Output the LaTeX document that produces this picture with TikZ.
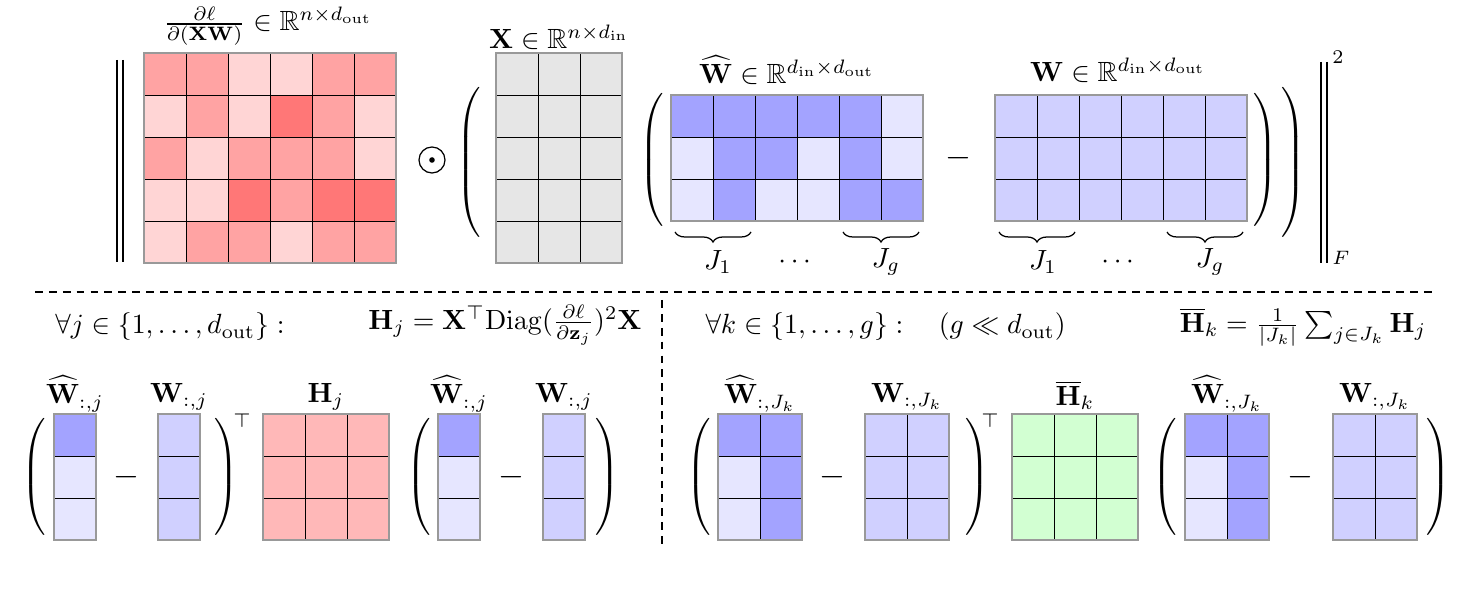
\documentclass[tikz,border=0pt]{standalone}
\usepackage{amsmath,amssymb}
\usetikzlibrary{decorations.pathreplacing}
\definecolor{RL}{RGB}{255,213,213}
\definecolor{RM}{RGB}{255,163,163}
\definecolor{RD}{RGB}{255,119,119}
\definecolor{BD}{RGB}{163,163,255}
\definecolor{BL}{RGB}{230,230,255}
\definecolor{BW}{RGB}{208,208,255}
\definecolor{GX}{RGB}{230,230,230}
\definecolor{HR}{RGB}{255,184,184}
\definecolor{HG}{RGB}{210,255,210}
\newcommand\dlm[2]{$\left#1\vcenter{\hbox{\vrule height #2 width 0pt}}\right.$}
\newcommand\dlmr[2]{$\left.\vcenter{\hbox{\vrule height #2 width 0pt}}\right#1$}
% \mymat{x}{y}{rows}
\newcommand\mymat[3]{%
  \foreach \row [count=\r] in {#3} {
    \foreach \cc [count=\k] in \row {
      \fill[\cc] ({#1+(\k-1)*42},{#2+(\r-1)*42}) rectangle ++(42,42);
    }
  }
  \foreach \row [count=\r] in {#3} {
    \foreach \cc [count=\k] in \row {
      \draw[cellline] ({#1+(\k-1)*42},{#2+(\r-1)*42}) rectangle ++(42,42);
      \xdef\nc{\k}
    }
    \xdef\nr{\r}
  }
  \draw[outline] (#1,#2) rectangle ({#1+\nc*42},{#2+\nr*42});
}
\begin{document}
\begin{tikzpicture}[x=0.36pt,y=-0.36pt,
  cellline/.style={draw=black,line width=0.35pt},
  outline/.style={draw=black!40,line width=0.5pt},
  lbl/.style={inner sep=0pt,anchor=center},
  brc/.style={decorate,decoration={brace,amplitude=3.6pt,mirror},line width=0.45pt},
  dsh/.style={line width=0.45pt,dash pattern=on 2.8pt off 2.2pt},
  bar/.style={line width=0.5pt}]
\useasboundingbox (0,0) rectangle (1481,592);
% ---------- top ----------
\draw[bar] (117,60) -- (117,262); \draw[bar] (123,60) -- (123,262);
\mymat{144}{53}{{RM,RM,RL,RL,RM,RM},{RL,RM,RL,RD,RM,RL},{RM,RL,RM,RM,RM,RL},{RL,RL,RD,RM,RD,RD},{RL,RM,RM,RL,RM,RM}}
\node[lbl] (lg) at (268,26) {$\frac{\partial\ell}{\partial(\mathbf{XW})}\in\mathbb{R}^{n\times d_{\mathrm{out}}}$};
\draw[line width=0.45pt] (432,160) circle (13);
\fill (432,160) circle (2.8);
\node[lbl] (p1) at (470,162) {\dlm{(}{59pt}};
\mymat{496}{53}{{GX,GX,GX},{GX,GX,GX},{GX,GX,GX},{GX,GX,GX},{GX,GX,GX}}
\node[lbl] (lx) at (559,37) {$\mathbf{X}\in\mathbb{R}^{n\times d_{\mathrm{in}}}$};
\node[lbl] (p2) at (653,160) {\dlm{(}{48pt}};
\mymat{671}{95}{{BD,BD,BD,BD,BD,BL},{BL,BD,BD,BL,BD,BL},{BL,BD,BL,BL,BD,BD}}
\node[lbl] (lwh) at (787,70) {$\widehat{\mathbf{W}}\in\mathbb{R}^{d_{\mathrm{in}}\times d_{\mathrm{out}}}$};
\node[lbl] (m1) at (958,158) {\large$-$};
\mymat{995}{95}{{BW,BW,BW,BW,BW,BW},{BW,BW,BW,BW,BW,BW},{BW,BW,BW,BW,BW,BW}}
\node[lbl] (lw) at (1118,70) {$\mathbf{W}\in\mathbb{R}^{d_{\mathrm{in}}\times d_{\mathrm{out}}}$};
\draw[brc] (675,232) -- (751,232);
\draw[brc] (843,232) -- (919,232);
\draw[brc] (999,232) -- (1075,232);
\draw[brc] (1167,232) -- (1243,232);
\node[lbl] (j1a) at (718,262) {$J_1$};
\node[lbl] (d1) at (797,262) {$\cdots$};
\node[lbl] (jga) at (886,262) {$J_g$};
\node[lbl] (j1b) at (1043,262) {$J_1$};
\node[lbl] (d2) at (1120,262) {$\cdots$};
\node[lbl] (jgb) at (1210,262) {$J_g$};
\node[lbl] (p3) at (1264,160) {\dlmr{)}{48pt}};
\node[lbl] (p4) at (1292,162) {\dlmr{)}{59pt}};
\draw[bar] (1321,62) -- (1321,263); \draw[bar] (1327,62) -- (1327,263);
\node[lbl] (sq) at (1338,57) {$\scriptstyle 2$};
\node[lbl] (fr) at (1341,258) {$\scriptstyle F$};
% ---------- separators ----------
\coordinate (h1) at (35,292); \coordinate (h2) at (1435,292);
\draw[dsh] (h1) -- (h2);
\coordinate (v1) at (662,300); \coordinate (v2) at (662,548);
\draw[dsh] (v1) -- (v2);
% ---------- bottom left ----------
\node[lbl] (t1) at (170,327) {$\forall j\in\{1,\ldots,d_{\mathrm{out}}\}:$};
\node[lbl] (t2) at (505,325) {$\mathbf{H}_j=\mathbf{X}^{\top}\mathrm{Diag}(\frac{\partial\ell}{\partial\mathbf{z}_j})^2\mathbf{X}$};
\node[lbl] (bp1) at (35,477) {\dlm{(}{42pt}};
\mymat{54}{414}{{BD},{BL},{BL}}
\node[lbl] (bm1) at (126,477) {\large$-$};
\mymat{158}{414}{{BW},{BW},{BW}}
\node[lbl] (bp2) at (225,477) {\dlmr{)}{42pt}};
\node[lbl] (bt1) at (242,421) {$\scriptstyle\top$};
\mymat{263}{414}{{HR,HR,HR},{HR,HR,HR},{HR,HR,HR}}
\node[lbl] (bp3) at (420,477) {\dlm{(}{42pt}};
\mymat{438}{414}{{BD},{BL},{BL}}
\node[lbl] (bm2) at (511,477) {\large$-$};
\mymat{543}{414}{{BW},{BW},{BW}}
\node[lbl] (bp4) at (606,477) {\dlmr{)}{42pt}};
\node[lbl] (l1) at (75,394) {$\widehat{\mathbf{W}}_{:,j}$};
\node[lbl] (l2) at (179,397) {$\mathbf{W}_{:,j}$};
\node[lbl] (l3) at (326,397) {$\mathbf{H}_j$};
\node[lbl] (l4) at (459,394) {$\widehat{\mathbf{W}}_{:,j}$};
\node[lbl] (l5) at (564,397) {$\mathbf{W}_{:,j}$};
% ---------- bottom right ----------
\node[lbl,anchor=west] (t3) at (705,327) {$\forall k\in\{1,\ldots,g\}:\quad(g\ll d_{\mathrm{out}})$};
\node[lbl] (t4) at (1303,327) {$\overline{\mathbf{H}}_k=\frac{1}{|J_k|}\sum_{j\in J_k}\mathbf{H}_j$};
\node[lbl] (cp1) at (700,477) {\dlm{(}{42pt}};
\mymat{718}{414}{{BD,BD},{BL,BD},{BL,BD}}
\node[lbl] (cm1) at (832,477) {\large$-$};
\mymat{865}{414}{{BW,BW},{BW,BW},{BW,BW}}
\node[lbl] (cp2) at (976,477) {\dlmr{)}{42pt}};
\node[lbl] (ct1) at (990,421) {$\scriptstyle\top$};
\mymat{1012}{414}{{HG,HG,HG},{HG,HG,HG},{HG,HG,HG}}
\node[lbl] (cp3) at (1166,477) {\dlm{(}{42pt}};
\mymat{1185}{414}{{BD,BD},{BL,BD},{BL,BD}}
\node[lbl] (cm2) at (1300,477) {\large$-$};
\mymat{1333}{414}{{BW,BW},{BW,BW},{BW,BW}}
\node[lbl] (cp4) at (1437,477) {\dlmr{)}{42pt}};
\node[lbl] (k1) at (760,394) {$\widehat{\mathbf{W}}_{:,J_k}$};
\node[lbl] (k2) at (907,397) {$\mathbf{W}_{:,J_k}$};
\node[lbl] (k3) at (1075,395) {$\overline{\mathbf{H}}_k$};
\node[lbl] (k4) at (1227,394) {$\widehat{\mathbf{W}}_{:,J_k}$};
\node[lbl] (k5) at (1375,397) {$\mathbf{W}_{:,J_k}$};
\end{tikzpicture}
\end{document}
